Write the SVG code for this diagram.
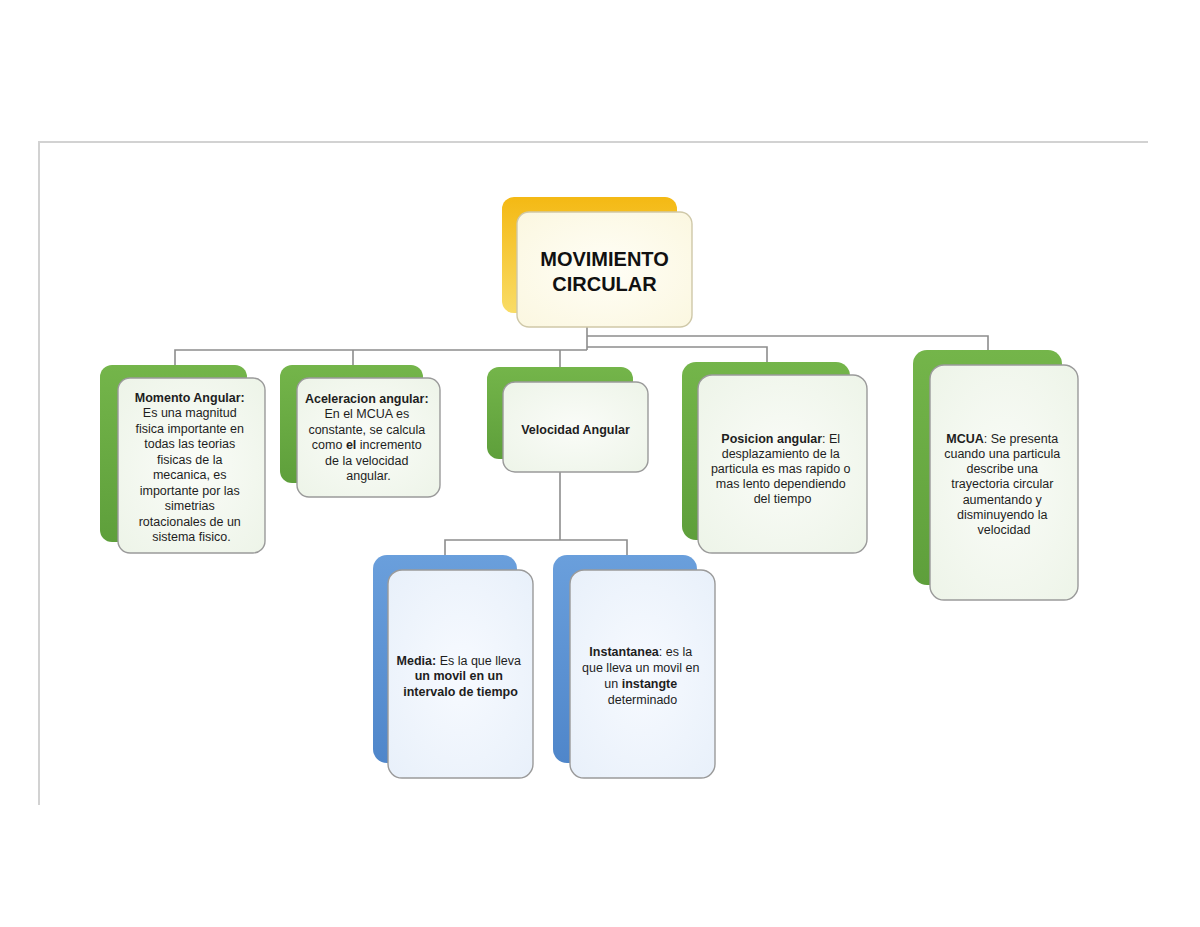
<svg xmlns="http://www.w3.org/2000/svg" width="1200" height="927" viewBox="0 0 1200 927">
<style>
  .conn { fill: none; stroke: #8d8d8d; stroke-width: 1.6; }
  .front { stroke: #9a9a9a; stroke-width: 1.4; }
  .txt { font-family: "Liberation Sans", Arial, sans-serif; font-size: 12.5px; fill: #1e1e1e; text-anchor: middle; }
  .b { font-weight: bold; }
  .title { font-family: "Liberation Sans", Arial, sans-serif; font-size: 20px; font-weight: bold; fill: #111; text-anchor: middle; }
</style>
<defs>
  <linearGradient id="gGreen" x1="0" y1="0" x2="0" y2="1">
    <stop offset="0" stop-color="#74b54a"/>
    <stop offset="1" stop-color="#5e9f3b"/>
  </linearGradient>
  <linearGradient id="gBlue" x1="0" y1="0" x2="0" y2="1">
    <stop offset="0" stop-color="#6a9fdc"/>
    <stop offset="1" stop-color="#4f86ca"/>
  </linearGradient>
  <linearGradient id="gYellow" x1="0" y1="0" x2="0" y2="1">
    <stop offset="0" stop-color="#f4b914"/>
    <stop offset="1" stop-color="#f9dc66"/>
  </linearGradient>
  <radialGradient id="fGreen" cx="0.5" cy="0.5" r="0.7">
    <stop offset="0" stop-color="#fafcf8"/>
    <stop offset="1" stop-color="#edf4e8"/>
  </radialGradient>
  <radialGradient id="fBlue" cx="0.5" cy="0.5" r="0.7">
    <stop offset="0" stop-color="#f7faff"/>
    <stop offset="1" stop-color="#e8f0fa"/>
  </radialGradient>
  <radialGradient id="fYellow" cx="0.5" cy="0.5" r="0.7">
    <stop offset="0" stop-color="#fffef6"/>
    <stop offset="1" stop-color="#fbf7e0"/>
  </radialGradient>
</defs>
<rect width="1200" height="927" fill="#ffffff"/>

<!-- page frame -->
<g id="frame">
  <line x1="38" y1="142" x2="1148" y2="142" stroke="#d2d2d2" stroke-width="2"/>
  <line x1="39" y1="142" x2="39" y2="805" stroke="#d2d2d2" stroke-width="2"/>
</g>

<!-- connectors -->
<g id="connectors">
  <polyline class="conn" points="587,327 587,350"/>
  <polyline class="conn" points="175,365 175,350 587,350"/>
  <polyline class="conn" points="353,350 353,365"/>
  <polyline class="conn" points="560,350 560,367"/>
  <polyline class="conn" points="587,336 988,336 988,350" stroke="#98a0ac"/>
  <polyline class="conn" points="587,347 767,347 767,362" stroke="#9aa2ae"/>
  <polyline class="conn" points="560,472 560,540"/>
  <polyline class="conn" points="445,555 445,540 627,540 627,555"/>
</g>

<!-- root -->
<g id="node-root">
  <rect x="502" y="197" width="175" height="116" rx="12" fill="url(#gYellow)"/>
  <rect x="517" y="212" width="175" height="115" rx="12" fill="url(#fYellow)" stroke="#cfc8a8" stroke-width="1.4"/>
  <text class="title" x="604.5" y="266">MOVIMIENTO</text>
  <text class="title" x="604.5" y="291">CIRCULAR</text>
</g>

<!-- Momento Angular -->
<g id="node-momento">
  <rect x="100" y="365" width="147" height="177" rx="12" fill="url(#gGreen)"/>
  <rect class="front" x="118" y="378" width="147" height="175" rx="12" fill="url(#fGreen)"/>
  <text class="txt" x="191.5" y="401.5">
    <tspan class="b">Momento Angular:</tspan>
    <tspan x="191.5" dy="15.5">Es una magnitud</tspan>
    <tspan x="191.5" dy="15.5">fisica importante en</tspan>
    <tspan x="191.5" dy="15.5">todas las teorias</tspan>
    <tspan x="191.5" dy="15.5">fisicas de la</tspan>
    <tspan x="191.5" dy="15.5">mecanica, es</tspan>
    <tspan x="191.5" dy="15.5">importante por las</tspan>
    <tspan x="191.5" dy="15.5">simetrias</tspan>
    <tspan x="191.5" dy="15.5">rotacionales de un</tspan>
    <tspan x="191.5" dy="15.5">sistema fisico.</tspan>
  </text>
</g>

<!-- Aceleracion angular -->
<g id="node-aceleracion">
  <rect x="280" y="365" width="143" height="118" rx="12" fill="url(#gGreen)"/>
  <rect class="front" x="297" y="378" width="143" height="119" rx="12" fill="url(#fGreen)"/>
  <text class="txt" x="368.5" y="402.5">
    <tspan class="b">Aceleracion angular:</tspan>
    <tspan x="368.5" dy="15.5">En el MCUA es</tspan>
    <tspan x="368.5" dy="15.5">constante, se calcula</tspan>
    <tspan x="368.5" dy="15.5">como <tspan class="b">el</tspan> incremento</tspan>
    <tspan x="368.5" dy="15.5">de la velocidad</tspan>
    <tspan x="368.5" dy="15.5">angular.</tspan>
  </text>
</g>

<!-- Velocidad Angular -->
<g id="node-velocidad">
  <rect x="487" y="367" width="146" height="92" rx="12" fill="url(#gGreen)"/>
  <rect class="front" x="503" y="382" width="145" height="90" rx="12" fill="url(#fGreen)"/>
  <text class="txt b" x="575.5" y="434">Velocidad Angular</text>
</g>

<!-- Posicion angular -->
<g id="node-posicion">
  <rect x="682" y="362" width="168" height="178" rx="14" fill="url(#gGreen)"/>
  <rect class="front" x="698" y="375" width="169" height="178" rx="14" fill="url(#fGreen)"/>
  <text class="txt" x="782.5" y="442.5">
    <tspan class="b">Posicion angular</tspan>: El
    <tspan x="782.5" dy="15">desplazamiento de la</tspan>
    <tspan x="782.5" dy="15">particula es mas rapido o</tspan>
    <tspan x="782.5" dy="15">mas lento dependiendo</tspan>
    <tspan x="782.5" dy="15">del tiempo</tspan>
  </text>
</g>

<!-- MCUA -->
<g id="node-mcua">
  <rect x="913" y="350" width="149" height="235" rx="14" fill="url(#gGreen)"/>
  <rect class="front" x="930" y="365" width="148" height="235" rx="14" fill="url(#fGreen)"/>
  <text class="txt" x="1004" y="442.5">
    <tspan class="b">MCUA</tspan>: Se presenta
    <tspan x="1004" dy="15.3">cuando una particula</tspan>
    <tspan x="1004" dy="15.3">describe una</tspan>
    <tspan x="1004" dy="15.3">trayectoria circular</tspan>
    <tspan x="1004" dy="15.3">aumentando y</tspan>
    <tspan x="1004" dy="15.3">disminuyendo la</tspan>
    <tspan x="1004" dy="15.3">velocidad</tspan>
  </text>
</g>

<!-- Media -->
<g id="node-media">
  <rect x="373" y="555" width="144" height="208" rx="14" fill="url(#gBlue)"/>
  <rect class="front" x="388" y="570" width="145" height="208" rx="14" fill="url(#fBlue)"/>
  <text class="txt" x="460.5" y="664.5">
    <tspan class="b">Media:</tspan> Es la que lleva
    <tspan x="460.5" dy="15.5" class="b">un movil en un</tspan>
    <tspan x="460.5" dy="15.5" class="b">intervalo de tiempo</tspan>
  </text>
</g>

<!-- Instantanea -->
<g id="node-instantanea">
  <rect x="553" y="555" width="144" height="208" rx="14" fill="url(#gBlue)"/>
  <rect class="front" x="570" y="570" width="145" height="208" rx="14" fill="url(#fBlue)"/>
  <text class="txt" x="642.5" y="655.5">
    <tspan class="b">Instantanea</tspan>: es la
    <tspan x="642.5" dy="16">que lleva un movil en</tspan>
    <tspan x="642.5" dy="16">un <tspan class="b">instangte</tspan></tspan>
    <tspan x="642.5" dy="16">determinado</tspan>
  </text>
</g>
</svg>
